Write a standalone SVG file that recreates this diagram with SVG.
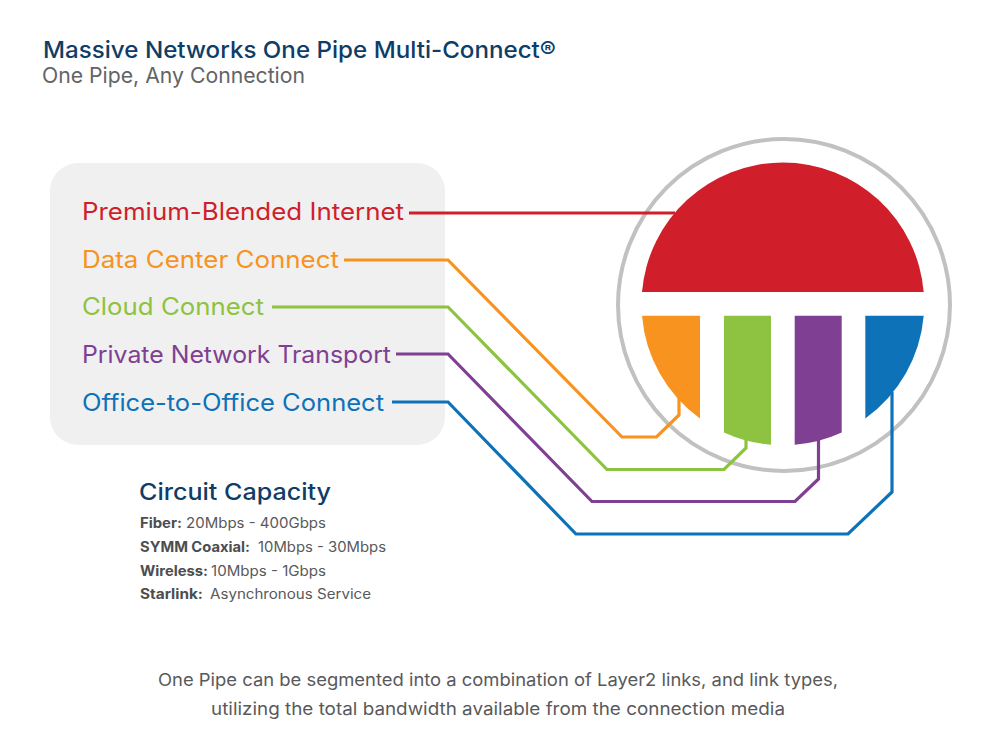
<svg xmlns="http://www.w3.org/2000/svg" width="1000" height="750" viewBox="0 0 1000 750">
<style>
text{font-family:Inter,"Open Sans","Liberation Sans",sans-serif}
.l{font-size:24px}
.c{fill:none;stroke-width:3.2;stroke-linejoin:miter}
.s{font-size:14px;fill:#58595b}
.b{font-size:14px;font-weight:700;fill:#4d4d4f}
.f{font-size:17.5px;fill:#58595b}
</style>
<rect width="1000" height="750" fill="#fff"/>
<g id="title">
<text x="43" y="58" font-size="23.500" font-weight="500" fill="#0f3d66" textLength="513" lengthAdjust="spacingAndGlyphs">Massive Networks One Pipe Multi-Connect®</text>
<text x="42" y="83" font-size="21.500" fill="#636466" textLength="263" lengthAdjust="spacingAndGlyphs">One Pipe, Any Connection</text>
</g>
<g id="services-panel">
<rect x="50" y="163" width="395" height="282" rx="28" fill="#f0f0f0"/>
<text class="l" x="82" y="220" fill="#d01f2a" textLength="322" lengthAdjust="spacingAndGlyphs">Premium-Blended Internet</text>
<text class="l" x="82" y="268" fill="#f7931e" textLength="257" lengthAdjust="spacingAndGlyphs">Data Center Connect</text>
<text class="l" x="82" y="315" fill="#8dc340" textLength="182" lengthAdjust="spacingAndGlyphs">Cloud Connect</text>
<text class="l" x="82" y="363" fill="#7f3f92" textLength="309" lengthAdjust="spacingAndGlyphs">Private Network Transport</text>
<text class="l" x="82" y="411" fill="#0e72b8" textLength="302" lengthAdjust="spacingAndGlyphs">Office-to-Office Connect</text>
</g>
<g id="pipe">
<circle cx="784" cy="305" r="166" fill="none" stroke="#c1c1c1" stroke-width="4"/>
<path id="seg-red" d="M642 292A141.35 141.35 0 0 1 923.7 292Z" fill="#d01f2a"/>
<path id="seg-orange" d="M642 315.7H700V418.4A141.35 141.35 0 0 1 642 315.7Z" fill="#f7931e"/>
<path id="seg-green" d="M724 315.7H771V444.7A141.35 141.35 0 0 1 724 432.4Z" fill="#8dc340"/>
<path id="seg-purple" d="M794.7 315.7H841.7V432.4A141.35 141.35 0 0 1 794.7 444.7Z" fill="#7f3f92"/>
<path id="seg-blue" d="M865.3 315.7H923.7A141.35 141.35 0 0 1 865.3 418.4Z" fill="#0e72b8"/>
</g>
<g id="connectors">
<path class="c" stroke="#d01f2a" d="M409 213H675"/>
<path class="c" stroke="#f7931e" d="M344 260H448L622 437H656.500L679 415V396"/>
<path class="c" stroke="#8dc340" d="M272 307H448L607 469.500H724L746 448V438"/>
<path class="c" stroke="#7f3f92" d="M396 354H448L592 501.500H795L818.500 479V438"/>
<path class="c" stroke="#0e72b8" d="M392 402H448L576 534H848L892 492V392"/>
</g>
<g id="capacity">
<text x="139" y="500" font-size="23" font-weight="500" fill="#0f3d66" textLength="192" lengthAdjust="spacingAndGlyphs">Circuit Capacity</text>
<text class="b" x="140" y="528" textLength="42" lengthAdjust="spacingAndGlyphs">Fiber:</text>
<text class="s" x="186" y="528" textLength="140" lengthAdjust="spacingAndGlyphs">20Mbps - 400Gbps</text>
<text class="b" x="140" y="552" textLength="110" lengthAdjust="spacingAndGlyphs">SYMM Coaxial:</text>
<text class="s" x="258" y="552" textLength="128" lengthAdjust="spacingAndGlyphs">10Mbps - 30Mbps</text>
<text class="b" x="140" y="576" textLength="68" lengthAdjust="spacingAndGlyphs">Wireless:</text>
<text class="s" x="211" y="576" textLength="115" lengthAdjust="spacingAndGlyphs">10Mbps - 1Gbps</text>
<text class="b" x="140" y="599" textLength="63" lengthAdjust="spacingAndGlyphs">Starlink:</text>
<text class="s" x="210" y="599" textLength="161" lengthAdjust="spacingAndGlyphs">Asynchronous Service</text>
</g>
<g id="footer">
<text class="f" x="158" y="686" textLength="680" lengthAdjust="spacingAndGlyphs">One Pipe can be segmented into a combination of Layer2 links, and link types,</text>
<text class="f" x="211" y="715" textLength="574" lengthAdjust="spacingAndGlyphs">utilizing the total bandwidth available from the connection media</text>
</g>
</svg>
